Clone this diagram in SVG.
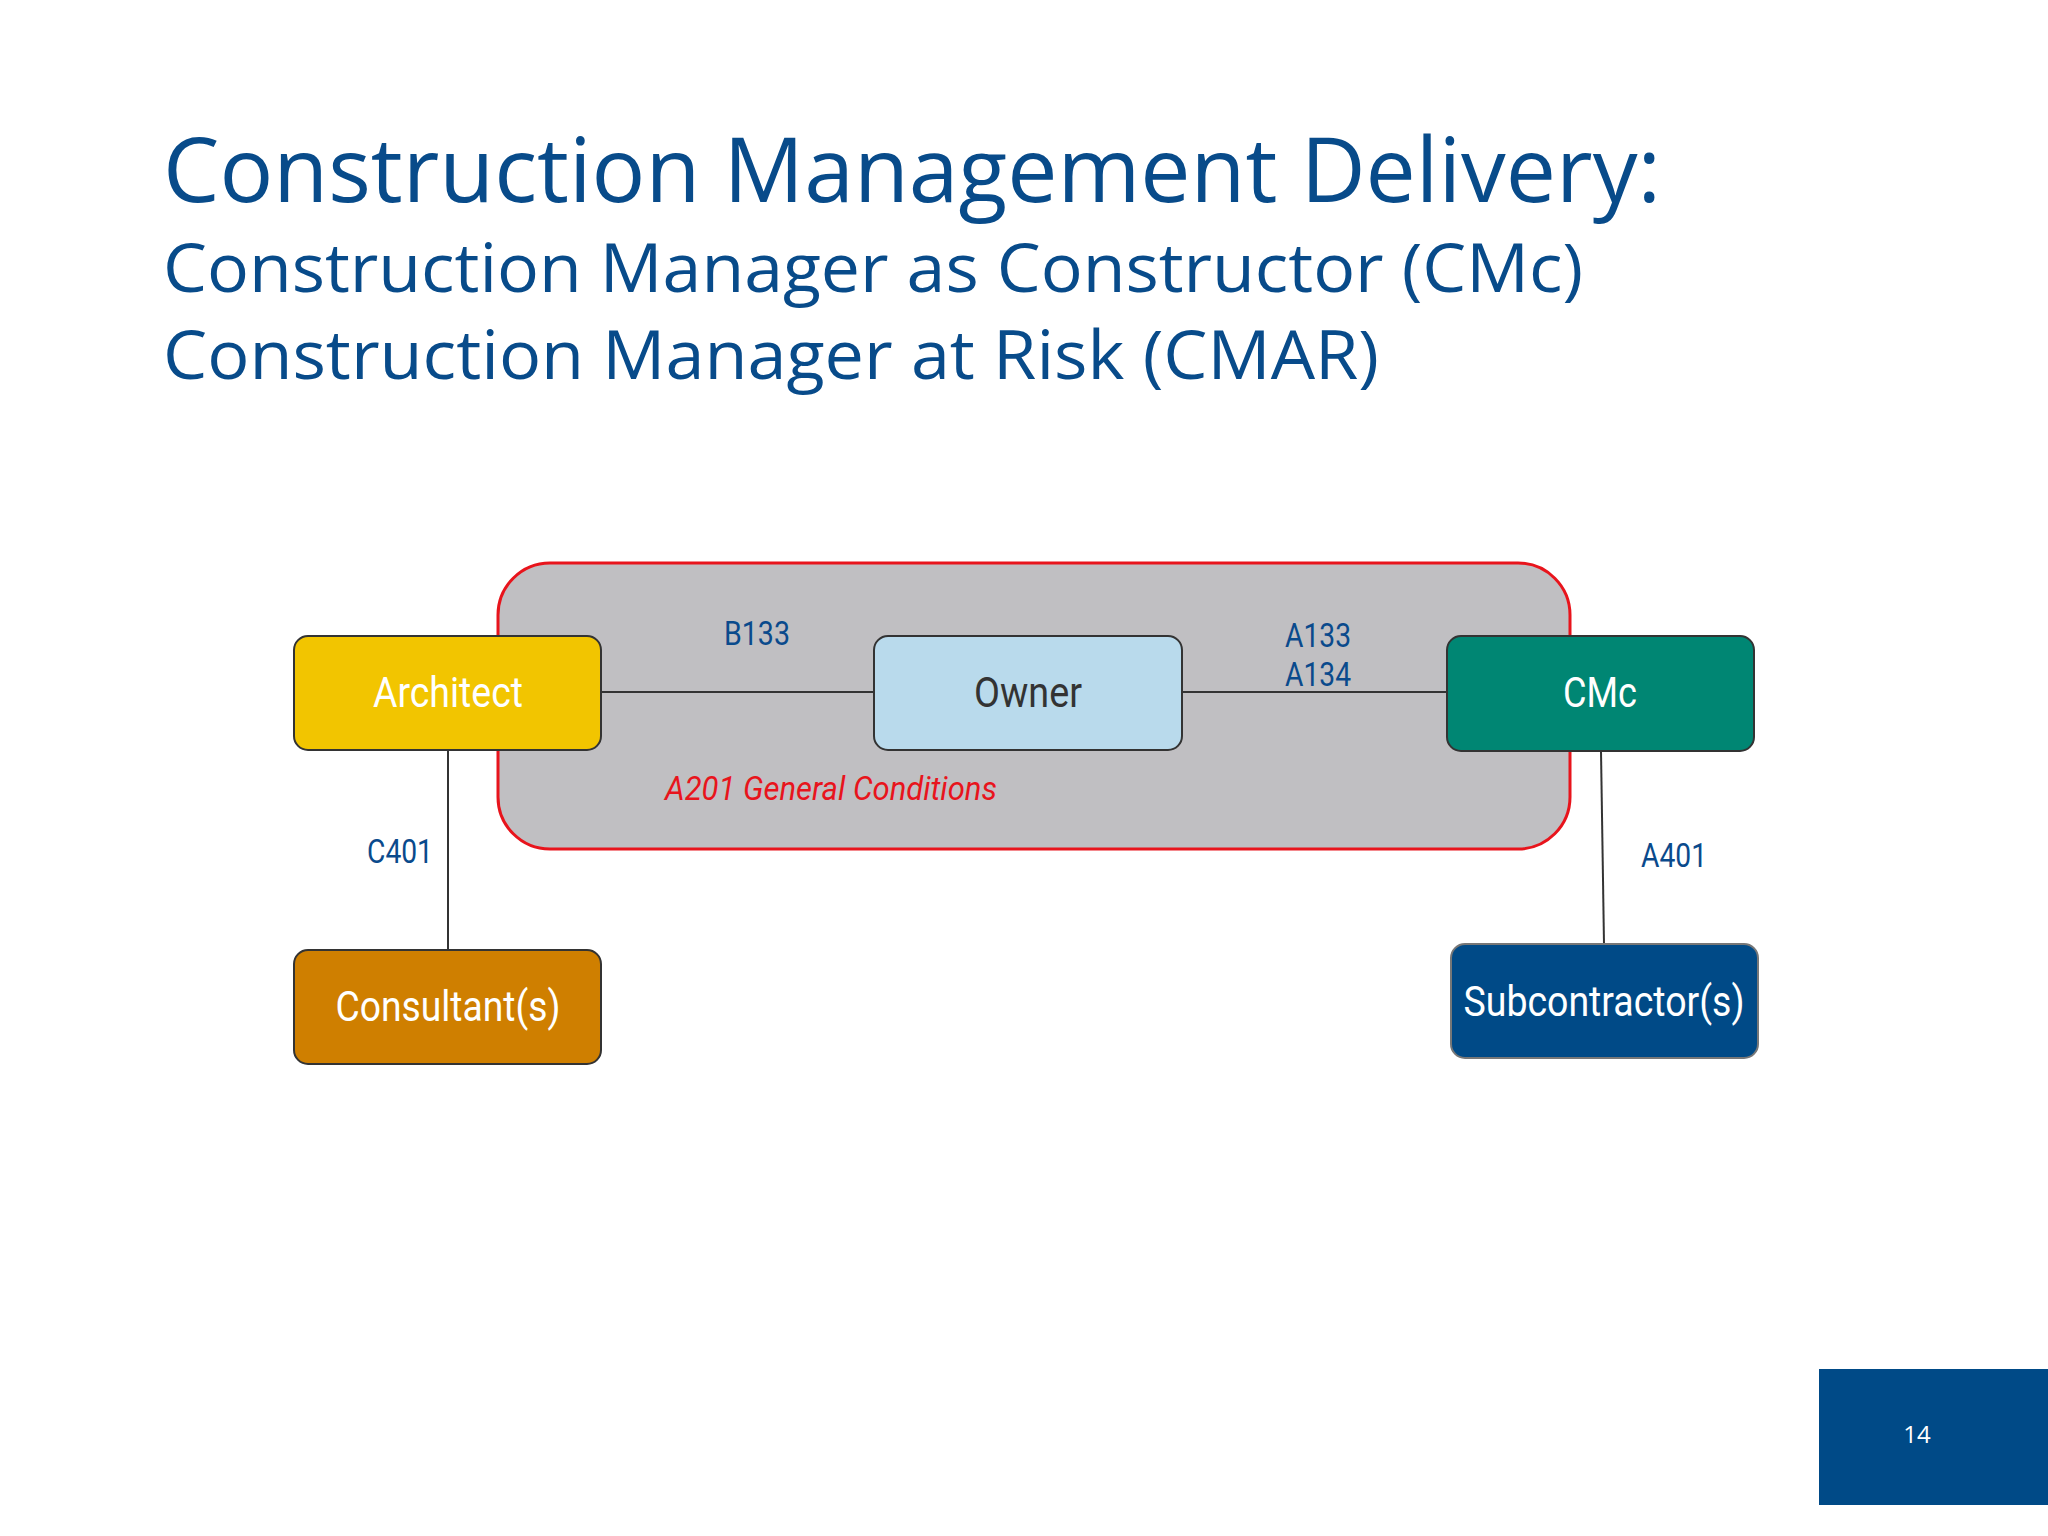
<svg xmlns="http://www.w3.org/2000/svg" width="2048" height="1536" viewBox="0 0 2048 1536">
<style>
.t{font-family:"Open Sans","Noto Sans",sans-serif;fill:#084B8A}
.n{stroke:#333;stroke-width:2}
.nl{font-family:Roboto,"Liberation Sans",sans-serif;font-size:42px;text-anchor:middle;fill:#fff}
.l{font-family:Roboto,"Liberation Sans",sans-serif;font-size:34px;text-anchor:middle;fill:#0A4A8C}
.c{stroke:#333;stroke-width:2;fill:none}
</style>
<rect width="2048" height="1536" fill="#fff"/>
<text class="t" x="163" y="202" font-size="89" textLength="1498" lengthAdjust="spacingAndGlyphs">Construction Management Delivery:</text>
<text class="t" x="163" y="292" font-size="68" textLength="1420" lengthAdjust="spacingAndGlyphs">Construction Manager as Constructor (CMc)</text>
<text class="t" x="163" y="379" font-size="68" textLength="1216" lengthAdjust="spacingAndGlyphs">Construction Manager at Risk (CMAR)</text>
<g id="group"><rect x="498" y="563" width="1072" height="286" rx="52" fill="#C0BFC2" stroke="#E8141C" stroke-width="3"/>
<text x="831" y="800" font-family="Roboto,'Liberation Sans',sans-serif" font-size="34" font-style="italic" fill="#E8141C" text-anchor="middle" textLength="332" lengthAdjust="spacingAndGlyphs">A201 General Conditions</text></g>
<g id="connectors">
<line class="c" x1="601" y1="692" x2="874" y2="692"/>
<line class="c" x1="1182" y1="692" x2="1447" y2="692"/>
<line class="c" x1="448" y1="750" x2="448" y2="950"/>
<line class="c" x1="1601" y1="751" x2="1604" y2="944"/>
<text class="l" x="757" y="645" textLength="66" lengthAdjust="spacingAndGlyphs">B133</text>
<text class="l" x="1318" y="647" textLength="66" lengthAdjust="spacingAndGlyphs">A133</text>
<text class="l" x="1318" y="686" textLength="66" lengthAdjust="spacingAndGlyphs">A134</text>
<text class="l" x="400" y="863" textLength="66" lengthAdjust="spacingAndGlyphs">C401</text>
<text class="l" x="1674" y="867" textLength="66" lengthAdjust="spacingAndGlyphs">A401</text>
</g>
<g id="architect"><rect class="n" x="294" y="636" width="307" height="114" rx="14" fill="#F2C500"/><text class="nl" x="448" y="707" textLength="150" lengthAdjust="spacingAndGlyphs">Architect</text></g>
<g id="owner"><rect class="n" x="874" y="636" width="308" height="114" rx="14" fill="#B9DAEC"/><text class="nl" x="1028" y="707" style="fill:#333" textLength="108" lengthAdjust="spacingAndGlyphs">Owner</text></g>
<g id="cmc"><rect class="n" x="1447" y="636" width="307" height="115" rx="14" fill="#008673"/><text class="nl" x="1600" y="707" textLength="74" lengthAdjust="spacingAndGlyphs">CMc</text></g>
<g id="consultant"><rect class="n" x="294" y="950" width="307" height="114" rx="14" fill="#CF7F00"/><text class="nl" x="448" y="1021" textLength="225" lengthAdjust="spacingAndGlyphs">Consultant(s)</text></g>
<g id="subcontractor"><rect x="1451" y="944" width="307" height="114" rx="14" fill="#004A87" stroke="#777" stroke-width="2"/><text class="nl" x="1604" y="1016" textLength="281" lengthAdjust="spacingAndGlyphs">Subcontractor(s)</text></g>
<rect x="1819" y="1369" width="229" height="136" fill="#004A87"/>
<text x="1917" y="1443" font-family="'Open Sans',sans-serif" font-size="24" fill="#fff" text-anchor="middle">14</text>
</svg>
